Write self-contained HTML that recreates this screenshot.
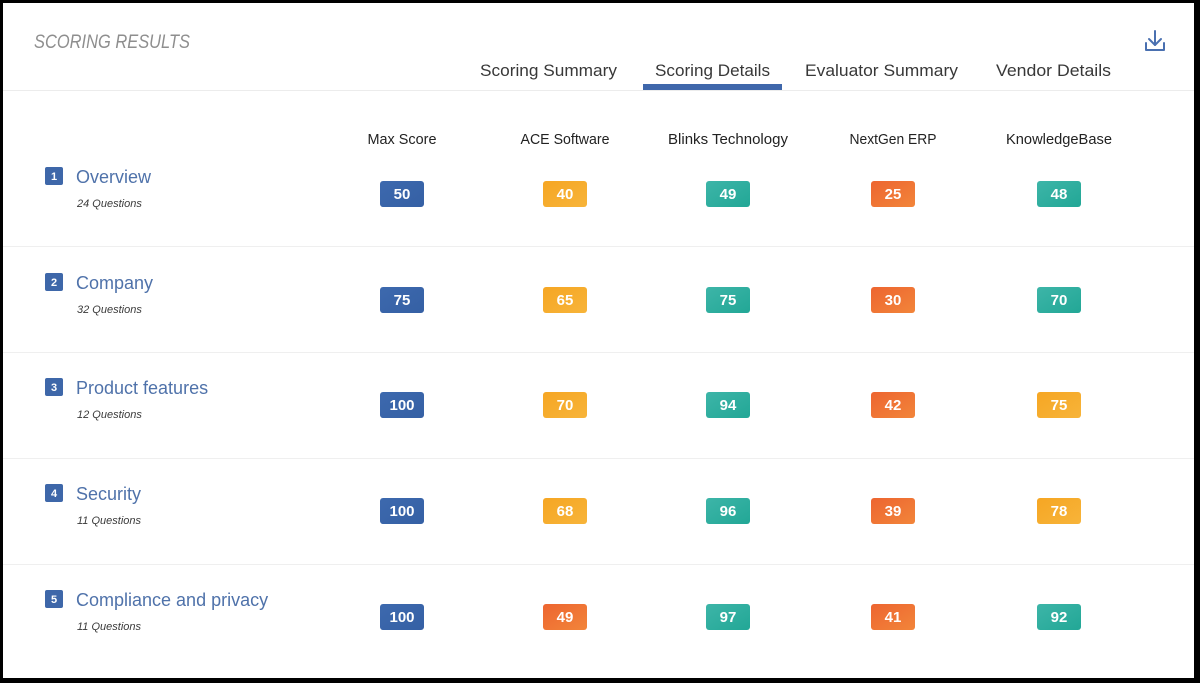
<!DOCTYPE html>
<html>
<head>
<meta charset="utf-8">
<style>
html,body{margin:0;padding:0;background:#000;}
svg{display:block;}
text{font-family:"Liberation Sans",sans-serif;}
</style>
</head>
<body>
<svg width="1200" height="683" viewBox="0 0 1200 683" xmlns="http://www.w3.org/2000/svg">
<defs>
<linearGradient id="gb" x1="0" y1="0" x2="1" y2="1"><stop offset="0" stop-color="#3d69ae"/><stop offset="1" stop-color="#3560a4"/></linearGradient>
<linearGradient id="ga" x1="0" y1="0" x2="1" y2="1"><stop offset="0" stop-color="#f6a623"/><stop offset="1" stop-color="#f7b43a"/></linearGradient>
<linearGradient id="gt" x1="0" y1="0" x2="1" y2="1"><stop offset="0" stop-color="#3db5a8"/><stop offset="1" stop-color="#22a796"/></linearGradient>
<linearGradient id="gr" x1="0" y1="0" x2="1" y2="1"><stop offset="0" stop-color="#ed6530"/><stop offset="1" stop-color="#f2853a"/></linearGradient>
</defs>
<rect x="0" y="0" width="1200" height="683" fill="#000"/>
<rect x="3" y="3" width="1191" height="675" fill="#fff"/>

<!-- title -->
<text x="34" y="48" font-size="19" font-style="italic" fill="#8e8e8e" textLength="156" lengthAdjust="spacingAndGlyphs">SCORING RESULTS</text>

<!-- download icon -->
<g stroke="#4a70b0" stroke-width="2" fill="none" stroke-linecap="round" stroke-linejoin="round">
<line x1="1155" y1="31" x2="1155" y2="45"/>
<polyline points="1149,39 1155,45 1161,39"/>
<polyline points="1146,43 1146,50 1164,50 1164,43"/>
</g>

<!-- tabs -->
<g font-size="17" fill="#383838">
<text x="480" y="76" textLength="137" lengthAdjust="spacingAndGlyphs">Scoring Summary</text>
<text x="655" y="76" textLength="115" lengthAdjust="spacingAndGlyphs">Scoring Details</text>
<text x="805" y="76" textLength="153" lengthAdjust="spacingAndGlyphs">Evaluator Summary</text>
<text x="996" y="76" textLength="115" lengthAdjust="spacingAndGlyphs">Vendor Details</text>
</g>
<rect x="3" y="90" width="1191" height="1" fill="#ececec"/>
<rect x="643" y="84" width="139" height="6" fill="#3f67ab"/>

<!-- column headers -->
<g font-size="14.5" fill="#222" text-anchor="middle">
<text x="402" y="144" textLength="69" lengthAdjust="spacingAndGlyphs">Max Score</text>
<text x="565" y="144" textLength="89" lengthAdjust="spacingAndGlyphs">ACE Software</text>
<text x="728" y="144" textLength="120" lengthAdjust="spacingAndGlyphs">Blinks Technology</text>
<text x="893" y="144" textLength="87" lengthAdjust="spacingAndGlyphs">NextGen ERP</text>
<text x="1059" y="144" textLength="106" lengthAdjust="spacingAndGlyphs">KnowledgeBase</text>
</g>

<!-- separators -->
<g fill="#efefef">
<rect x="3" y="246" width="1191" height="1"/>
<rect x="3" y="352" width="1191" height="1"/>
<rect x="3" y="458" width="1191" height="1"/>
<rect x="3" y="564" width="1191" height="1"/>
</g>

<!-- rows: left labels -->
<g>
<rect x="45" y="167" width="18" height="18" rx="2" fill="#3e67a9"/>
<text x="54" y="180" font-size="11" font-weight="bold" fill="#fff" text-anchor="middle">1</text>
<text x="76" y="183" font-size="18" fill="#4f72aa">Overview</text>
<text x="77" y="207" font-size="11" font-style="italic" fill="#3a3a3a">24 Questions</text>

<rect x="45" y="273" width="18" height="18" rx="2" fill="#3e67a9"/>
<text x="54" y="286" font-size="11" font-weight="bold" fill="#fff" text-anchor="middle">2</text>
<text x="76" y="289" font-size="18" fill="#4f72aa">Company</text>
<text x="77" y="313" font-size="11" font-style="italic" fill="#3a3a3a">32 Questions</text>

<rect x="45" y="378" width="18" height="18" rx="2" fill="#3e67a9"/>
<text x="54" y="391" font-size="11" font-weight="bold" fill="#fff" text-anchor="middle">3</text>
<text x="76" y="394" font-size="18" fill="#4f72aa">Product features</text>
<text x="77" y="418" font-size="11" font-style="italic" fill="#3a3a3a">12 Questions</text>

<rect x="45" y="484" width="18" height="18" rx="2" fill="#3e67a9"/>
<text x="54" y="497" font-size="11" font-weight="bold" fill="#fff" text-anchor="middle">4</text>
<text x="76" y="500" font-size="18" fill="#4f72aa">Security</text>
<text x="77" y="524" font-size="11" font-style="italic" fill="#3a3a3a">11 Questions</text>

<rect x="45" y="590" width="18" height="18" rx="2" fill="#3e67a9"/>
<text x="54" y="603" font-size="11" font-weight="bold" fill="#fff" text-anchor="middle">5</text>
<text x="76" y="606" font-size="18" fill="#4f72aa">Compliance and privacy</text>
<text x="77" y="630" font-size="11" font-style="italic" fill="#3a3a3a">11 Questions</text>
</g>

<!-- badges -->
<g font-size="15" font-weight="bold" fill="#fff" text-anchor="middle">
<rect x="380" y="181" width="44" height="26" rx="3" fill="url(#gb)"/><text x="402" y="199">50</text>
<rect x="543" y="181" width="44" height="26" rx="3" fill="url(#ga)"/><text x="565" y="199">40</text>
<rect x="706" y="181" width="44" height="26" rx="3" fill="url(#gt)"/><text x="728" y="199">49</text>
<rect x="871" y="181" width="44" height="26" rx="3" fill="url(#gr)"/><text x="893" y="199">25</text>
<rect x="1037" y="181" width="44" height="26" rx="3" fill="url(#gt)"/><text x="1059" y="199">48</text>

<rect x="380" y="287" width="44" height="26" rx="3" fill="url(#gb)"/><text x="402" y="305">75</text>
<rect x="543" y="287" width="44" height="26" rx="3" fill="url(#ga)"/><text x="565" y="305">65</text>
<rect x="706" y="287" width="44" height="26" rx="3" fill="url(#gt)"/><text x="728" y="305">75</text>
<rect x="871" y="287" width="44" height="26" rx="3" fill="url(#gr)"/><text x="893" y="305">30</text>
<rect x="1037" y="287" width="44" height="26" rx="3" fill="url(#gt)"/><text x="1059" y="305">70</text>

<rect x="380" y="392" width="44" height="26" rx="3" fill="url(#gb)"/><text x="402" y="410">100</text>
<rect x="543" y="392" width="44" height="26" rx="3" fill="url(#ga)"/><text x="565" y="410">70</text>
<rect x="706" y="392" width="44" height="26" rx="3" fill="url(#gt)"/><text x="728" y="410">94</text>
<rect x="871" y="392" width="44" height="26" rx="3" fill="url(#gr)"/><text x="893" y="410">42</text>
<rect x="1037" y="392" width="44" height="26" rx="3" fill="url(#ga)"/><text x="1059" y="410">75</text>

<rect x="380" y="498" width="44" height="26" rx="3" fill="url(#gb)"/><text x="402" y="516">100</text>
<rect x="543" y="498" width="44" height="26" rx="3" fill="url(#ga)"/><text x="565" y="516">68</text>
<rect x="706" y="498" width="44" height="26" rx="3" fill="url(#gt)"/><text x="728" y="516">96</text>
<rect x="871" y="498" width="44" height="26" rx="3" fill="url(#gr)"/><text x="893" y="516">39</text>
<rect x="1037" y="498" width="44" height="26" rx="3" fill="url(#ga)"/><text x="1059" y="516">78</text>

<rect x="380" y="604" width="44" height="26" rx="3" fill="url(#gb)"/><text x="402" y="622">100</text>
<rect x="543" y="604" width="44" height="26" rx="3" fill="url(#gr)"/><text x="565" y="622">49</text>
<rect x="706" y="604" width="44" height="26" rx="3" fill="url(#gt)"/><text x="728" y="622">97</text>
<rect x="871" y="604" width="44" height="26" rx="3" fill="url(#gr)"/><text x="893" y="622">41</text>
<rect x="1037" y="604" width="44" height="26" rx="3" fill="url(#gt)"/><text x="1059" y="622">92</text>
</g>
</svg>
</body>
</html>
